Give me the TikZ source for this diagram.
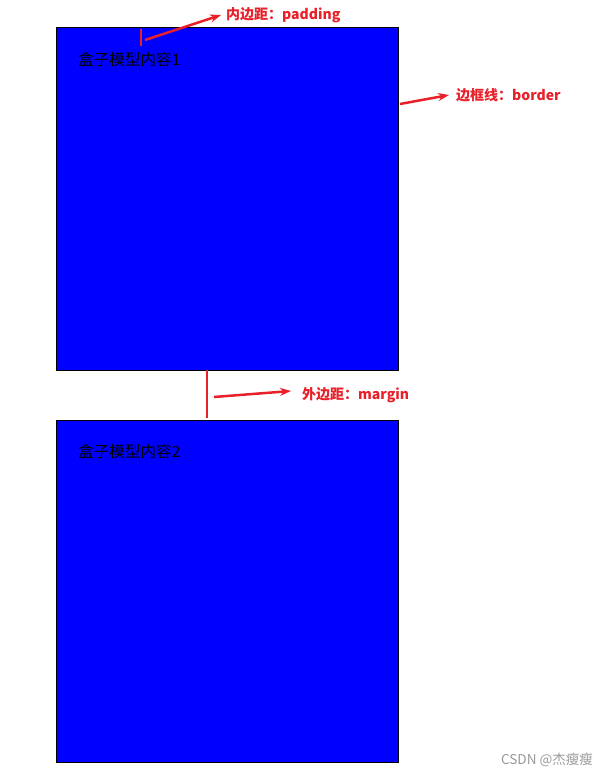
\documentclass[tikz,border=0pt]{standalone}
\usepackage{fontspec}
\setmainfont{Noto Sans CJK SC}
\newfontfamily\cjk{Noto Sans CJK SC}
\usetikzlibrary{arrows.meta}
\definecolor{lbred}{HTML}{E8202A}
\definecolor{boxblue}{HTML}{0000FF}
\tikzset{
  x=1pt, y=-1pt,
  boxmodel/.style={draw=black, line width=1pt, fill=boxblue},
  boxtext/.style={anchor=west, font=\cjk\fontsize{15.6}{15.6}\selectfont, text=black, inner sep=0pt},
  redline/.style={draw=lbred, line width=2pt},
  redarrow/.style={draw=lbred, line width=2.5pt, -{Stealth[length=11pt,width=8pt]}},
  redlabel/.style={anchor=west, font=\cjk\bfseries\fontsize{14}{14}\selectfont, text=lbred, inner sep=0pt},
  wmark/.style={anchor=east, font=\cjk\fontsize{13.5}{13.5}\selectfont, text=black!40, inner sep=0pt}
}
\begin{document}
\begin{tikzpicture}
\useasboundingbox (0,0) rectangle (608,778);
\filldraw[boxmodel] (56,28) rectangle (398,370);
\filldraw[boxmodel] (56,420) rectangle (398,762);
\node[boxtext] (t1) at (78,60) {盒子模型内容1};
\node[boxtext] (t2) at (78,452) {盒子模型内容2};
% padding
\coordinate (p1) at (141,29);
\coordinate (p2) at (141,46);
\draw[redline] (p1) -- (p2);
\coordinate (pa) at (145,40);
\node[redlabel] (lp) at (226,15) {内边距：padding};
\draw[redarrow] (pa) -- (221,15);
% border
\coordinate (ba) at (400,104);
\node[redlabel] (lb) at (456,95) {边框线：border};
\draw[redarrow] (ba) -- (449,95);
% margin
\coordinate (m1) at (207,370);
\coordinate (m2) at (207,418);
\draw[redline] (m1) -- (m2);
\coordinate (ma) at (214,397);
\node[redlabel] (lm) at (302,395) {外边距：margin};
\draw[redarrow] (ma) -- (291,391);
% watermark
\node[wmark] (wm) at (593,760) {CSDN @杰瘦瘦};
\end{tikzpicture}
\end{document}
